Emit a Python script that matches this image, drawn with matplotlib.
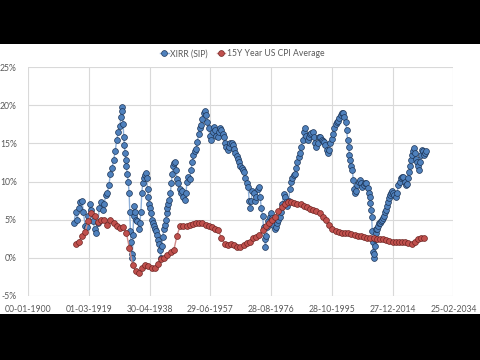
import matplotlib
matplotlib.use("Agg")
import matplotlib.pyplot as plt
from matplotlib.patches import Rectangle
from matplotlib.lines import Line2D

plt.rcParams['font.family'] = ['Lato', 'DejaVu Sans']

# ---- data ----
blue_years = [
    1914.5, 1915.0, 1915.5, 1916.0, 1916.5, 1917.0, 1917.5, 1918.0, 1918.5, 1919.0,
    1919.5, 1920.0, 1920.5, 1921.0, 1921.5, 1922.0, 1922.5, 1923.0, 1923.5, 1924.0,
    1924.5, 1925.0, 1925.5, 1926.0, 1926.5, 1927.0, 1927.5, 1928.0, 1928.5, 1929.0,
    1929.3, 1929.6, 1929.8, 1930.0, 1930.2, 1930.4, 1930.6, 1930.8, 1931.0, 1931.3,
    1931.6, 1931.9, 1932.1, 1932.3, 1932.5, 1932.7, 1932.9, 1933.1, 1933.3, 1933.5,
    1933.8, 1934.1, 1934.5, 1935.0, 1935.3, 1935.6, 1935.9, 1936.2, 1936.5, 1936.8,
    1937.1, 1937.4, 1937.7, 1938.0, 1938.3, 1938.6, 1938.9, 1939.2, 1939.5, 1939.8,
    1940.1, 1940.4, 1940.7, 1941.0, 1941.3, 1941.6, 1941.9, 1942.2, 1942.5, 1942.8,
    1943.1, 1943.4, 1943.7, 1944.0, 1944.3, 1944.6, 1944.9, 1945.2, 1945.5, 1945.8,
    1946.1, 1946.4, 1946.7, 1947.0, 1947.4, 1947.8, 1948.2, 1948.6, 1949.0, 1949.4,
    1949.8, 1950.2, 1950.6, 1951.0, 1951.4, 1951.8, 1952.2, 1952.6, 1953.0, 1953.4,
    1953.8, 1954.2, 1954.6, 1955.0, 1955.4, 1955.8, 1956.2, 1956.6, 1957.0, 1957.4,
    1957.8, 1958.2, 1958.6, 1959.0, 1959.4, 1959.8, 1960.2, 1960.6, 1961.0, 1961.4,
    1961.8, 1962.2, 1962.6, 1963.0, 1963.4, 1963.8, 1964.2, 1964.6, 1965.0, 1965.4,
    1965.8, 1966.2, 1966.6, 1967.0, 1967.4, 1967.8, 1968.2, 1968.6, 1969.0, 1969.4,
    1969.8, 1970.1, 1970.4, 1970.8, 1971.2, 1971.6, 1972.0, 1972.4, 1972.8, 1973.2,
    1973.6, 1974.0, 1974.3, 1974.6, 1974.9, 1975.2, 1975.5, 1975.8, 1976.2, 1976.6,
    1977.0, 1977.4, 1977.8, 1978.2, 1978.6, 1979.0, 1979.4, 1979.8, 1980.2, 1980.6,
    1981.0, 1981.4, 1981.8, 1982.2, 1982.6, 1983.0, 1983.4, 1983.8, 1984.2, 1984.6,
    1985.0, 1985.4, 1985.8, 1986.2, 1986.6, 1987.0, 1987.4, 1987.8, 1988.2, 1988.6,
    1989.0, 1989.4, 1989.8, 1990.2, 1990.6, 1991.0, 1991.4, 1991.8, 1992.2, 1992.6,
    1993.0, 1993.4, 1993.8, 1994.2, 1994.6, 1995.0, 1995.4, 1995.8, 1996.2, 1996.6,
    1997.0, 1997.4, 1997.8, 1998.2, 1998.6, 1999.0, 1999.4, 1999.8, 2000.2, 2000.5,
    2000.8, 2001.1, 2001.4, 2001.7, 2002.0, 2002.3, 2002.6, 2002.9, 2003.2, 2003.5,
    2003.9, 2004.3, 2004.7, 2005.1, 2005.5, 2005.9, 2006.3, 2006.7, 2007.1, 2007.5,
    2007.8, 2008.0, 2008.2, 2008.4, 2008.6, 2008.75, 2008.9, 2009.05, 2009.2, 2009.35,
    2009.5, 2009.7, 2009.9, 2010.2, 2010.5, 2010.8, 2011.1, 2011.4, 2011.7, 2012.0,
    2012.3, 2012.6, 2012.9, 2013.2, 2013.5, 2013.8, 2014.1, 2014.4, 2014.8, 2015.2,
    2015.6, 2016.0, 2016.4, 2016.8, 2017.2, 2017.6, 2018.0, 2018.4, 2018.8, 2019.2,
    2019.6, 2020.0, 2020.3, 2020.6, 2020.9, 2021.2, 2021.5, 2021.8, 2022.1, 2022.4,
    2022.7, 2023.0, 2023.4, 2023.8, 2024.1, 2024.4, 2024.7, 2025.0, 2025.3, 2025.6]
blue_vals = [
    4.5, 6.0, 5.0, 6.5, 7.3, 7.5, 6.0, 4.2, 4.0, 5.5,
    7.0, 6.2, 4.8, 3.8, 3.2, 4.5, 6.5, 7.3, 6.3, 7.0,
    8.2, 8.5, 9.5, 11.0, 11.8, 12.8, 14.0, 15.5, 16.5, 17.3,
    18.5, 19.8, 19.3, 17.5, 15.8, 14.8, 13.8, 12.8, 12.0, 11.0,
    10.0, 8.5, 6.0, 3.5, 2.0, 0.5, 0.0, 3.0, 5.5, 6.8,
    6.0, 5.0, 4.8, 3.8, 4.5, 6.0, 8.5, 9.8, 10.5, 10.8,
    11.1, 10.5, 9.0, 8.0, 7.0, 6.5, 5.8, 5.0, 4.5, 4.2,
    3.7, 3.5, 3.0, 2.3, 1.8, 1.0, 0.0, 1.5, 2.7, 3.8,
    4.3, 5.0, 5.8, 6.5, 7.0, 7.6, 8.5, 9.8, 11.0, 12.0,
    12.4, 12.6, 11.5, 10.3, 9.8, 9.0, 8.5, 8.8, 8.0, 7.6,
    8.5, 10.0, 10.6, 10.3, 11.5, 12.5, 13.5, 14.0, 14.3, 15.2,
    16.2, 17.0, 17.4, 18.2, 19.0, 19.2, 18.8, 17.8, 17.0, 16.0,
    15.5, 16.5, 17.2, 16.8, 16.0, 15.8, 16.5, 17.0, 16.8, 16.2,
    15.8, 15.0, 14.5, 14.2, 14.5, 15.0, 15.0, 14.8, 14.3, 13.8,
    13.3, 13.0, 12.5, 12.0, 11.8, 11.5, 11.2, 10.5, 9.8, 9.3,
    7.5, 6.5, 7.5, 8.8, 8.5, 7.5, 8.0, 9.0, 9.3, 8.0,
    6.5, 5.5, 4.0, 2.5, 1.4, 2.8, 4.0, 4.8, 5.3, 5.9,
    5.2, 4.3, 3.8, 4.0, 4.5, 5.0, 5.4, 6.0, 7.0, 8.3,
    8.0, 7.3, 6.8, 7.5, 9.0, 10.0, 10.5, 10.8, 11.0, 11.8,
    12.5, 13.2, 13.8, 14.5, 15.5, 16.5, 17.0, 16.0, 15.5, 15.8,
    16.2, 16.4, 16.5, 15.8, 15.0, 14.5, 15.0, 15.8, 15.8, 15.5,
    15.3, 15.2, 14.8, 14.2, 13.8, 14.2, 15.0, 15.6, 16.2, 17.0,
    17.5, 17.8, 18.0, 18.4, 18.7, 19.0, 19.0, 18.5, 17.8, 16.8,
    15.5, 14.5, 13.5, 12.8, 12.0, 11.5, 10.2, 9.0, 8.5, 8.8,
    9.5, 10.0, 10.2, 9.8, 9.3, 9.5, 9.8, 9.8, 9.2, 8.5,
    8.0, 7.2, 6.3, 5.3, 3.5, 2.0, 0.8, 0.0, 0.5, 1.5,
    2.5, 3.2, 3.7, 3.8, 4.2, 4.5, 4.5, 4.8, 5.0, 5.2,
    5.5, 6.0, 6.3, 6.8, 7.3, 7.8, 8.2, 8.5, 8.7, 8.5,
    8.2, 8.0, 8.5, 9.5, 10.0, 10.4, 10.6, 10.6, 10.0, 9.5,
    9.7, 10.5, 11.3, 12.0, 12.8, 13.5, 14.0, 14.4, 13.8, 13.0,
    12.5, 12.0, 11.5, 12.5, 13.5, 14.1, 14.0, 13.5, 13.8, 14.0]

red_years = list(range(1915, 2026))
red_vals = [1.8, 2.1, 2.8, 3.4, 4.8, 5.8, 5.5, 4.7, 4.9, 4.9,
            4.3, 4.9, 4.6, 4.1, 3.9, 4.0, 3.3, 1.2, -1.0, -1.8,
            -2.0, -1.3, -1.0, -1.1, -1.3, -1.4, -0.8, -0.2, 0.0, 0.4,
            0.8, 1.0, 2.9, 4.2, 4.2, 4.1, 4.3, 4.4, 4.5, 4.5,
            4.5, 4.3, 4.1, 4.0, 3.7, 3.6, 2.6, 1.8, 1.7, 1.8,
            1.7, 1.4, 1.4, 1.7, 1.9, 2.1, 2.6, 2.7, 3.0, 3.6,
            4.2, 4.6, 4.9, 5.4, 6.1, 6.7, 7.1, 7.3, 7.3, 7.2,
            7.1, 7.0, 6.8, 6.7, 6.4, 6.2, 6.1, 5.8, 5.4, 4.9,
            4.3, 3.8, 3.5, 3.4, 3.3, 3.3, 3.3, 3.1, 3.0, 2.9,
            2.8, 2.7, 2.6, 2.6, 2.6, 2.5, 2.4, 2.4, 2.3, 2.2,
            2.1, 2.1, 2.0, 2.0, 2.0, 1.9, 1.8, 2.1, 2.4, 2.6, 2.6]

x_ticks = [0, 7000, 14000, 21000, 28000, 35000, 42000, 49000]
x_labels = ['00-01-1900', '01-03-1919', '30-04-1938', '29-06-1957',
            '28-08-1976', '28-10-1995', '27-12-2014', '25-02-2034']
y_ticks = [-5, 0, 5, 10, 15, 20, 25]
y_labels = ['-5%', '0%', '5%', '10%', '15%', '20%', '25%']
series_names = ['XIRR (SIP)', '15Y Year US CPI Average']


def to_serial(years):
    return [(y - 1900.0) * 365.25 + 1 for y in years]


fig = plt.figure(figsize=(4.8, 3.6), dpi=100, facecolor='black')
fig.add_artist(Rectangle((0, 46 / 360), 1, 270 / 360, transform=fig.transFigure,
                         facecolor='white', edgecolor='none', zorder=0))

ax = fig.add_axes([28 / 480, 1 - 295.7 / 360, 425.3 / 480, 228.4 / 360])
ax.set_facecolor('none')

blue_fill = '#4F81BD'
blue_edge = '#1d3557'
red_fill = '#C0504D'
red_edge = '#6e2422'
ms = 4.2

ax.plot(to_serial(blue_years), blue_vals, color='#8fb0d9', lw=1.0,
        marker='o', ms=ms, mfc=blue_fill, mec=blue_edge, mew=0.5, zorder=3)
ax.plot(to_serial(red_years), red_vals, color='#d08c8a', lw=1.0,
        marker='o', ms=ms, mfc=red_fill, mec=red_edge, mew=0.5, zorder=4)

ax.set_xlim(x_ticks[0], x_ticks[-1])
ax.set_ylim(y_ticks[0], y_ticks[-1])
ax.set_xticks(x_ticks)
ax.set_xticklabels(x_labels)
ax.set_yticks(y_ticks)
ax.set_yticklabels(y_labels)
ax.grid(True, color='#d9d9d9', lw=0.8)
ax.set_axisbelow(True)
for s in ax.spines.values():
    s.set_visible(False)
ax.tick_params(length=0, labelsize=6.2, colors='#595959')
ax.tick_params(axis='x', pad=7)
ax.tick_params(axis='y', pad=8)

handles = [Line2D([0], [0], color='#8fb0d9', lw=1.0, marker='o', ms=ms,
                  mfc=blue_fill, mec=blue_edge, mew=0.5),
           Line2D([0], [0], color='#d08c8a', lw=1.0, marker='o', ms=ms,
                  mfc=red_fill, mec=red_edge, mew=0.5)]
fig.legend(handles, series_names, loc='center', bbox_to_anchor=(0.505, 1 - 54 / 360),
           ncol=2, frameon=False, fontsize=6.2, handlelength=1.0, handletextpad=0.2,
           columnspacing=1.0, labelcolor='#595959')

fig.savefig('out.png', dpi=100, facecolor='black')
